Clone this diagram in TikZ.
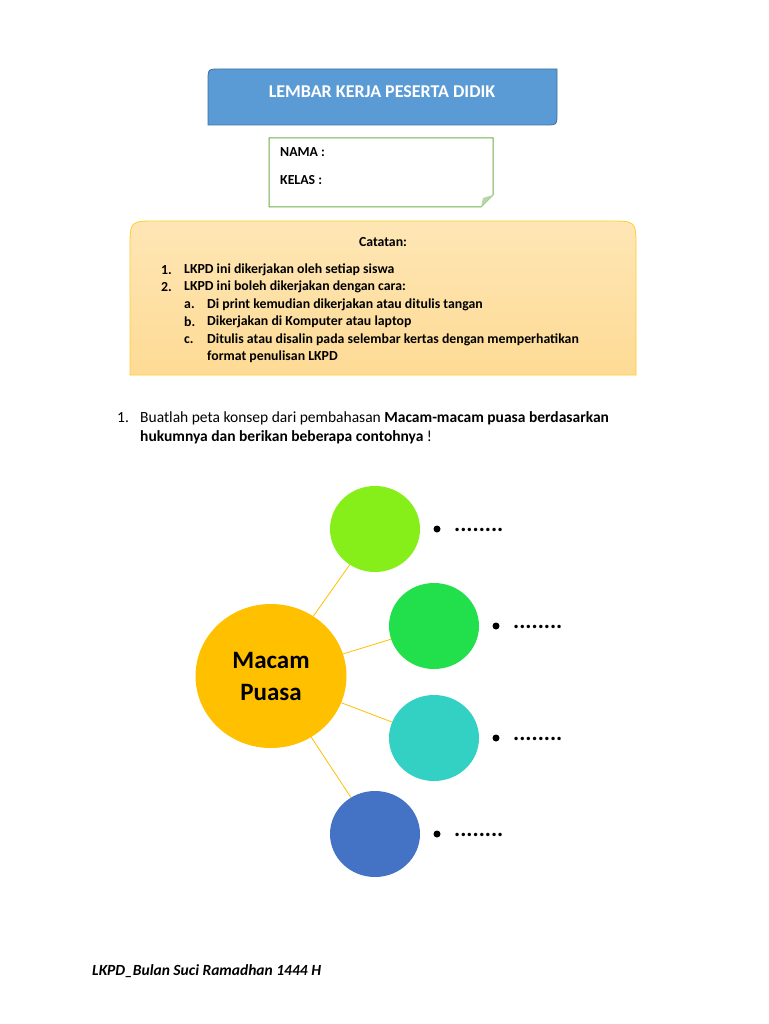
\documentclass[tikz,border=0pt]{standalone}
\usepackage{fontspec}
\setmainfont{Carlito}
\usetikzlibrary{shapes.geometric}
\definecolor{hblue}{HTML}{5B9BD5}
\definecolor{hblueb}{HTML}{41719C}
\definecolor{ngreen}{HTML}{70AD47}
\definecolor{corange}{HTML}{FFC000}
\definecolor{cfill}{HTML}{FEDB95}
\definecolor{c1}{HTML}{86EF19}
\definecolor{c2}{HTML}{22E04B}
\definecolor{c3}{HTML}{33D1C3}
\definecolor{c4}{HTML}{4472C4}
\tikzset{
  txt/.style={anchor=west,inner sep=0pt,font=\bfseries\fontsize{13.8}{15}\selectfont},
  qtxt/.style={anchor=west,inner sep=0pt,font=\fontsize{15.5}{17}\selectfont},
  circ/.style={ellipse,minimum width=90pt,minimum height=86pt,inner sep=0pt},
  link/.style={draw=corange,line width=0.8pt},
  dotlbl/.style={anchor=west,inner sep=0pt,font=\bfseries\fontsize{23}{24}\selectfont}
}
\begin{document}
\begin{tikzpicture}[x=1pt,y=-1pt]
\useasboundingbox (0,0) rectangle (768,1024);
\fill[white] (0,0) rectangle (768,1024);
% header
\draw[hblueb,fill=hblue,line width=0.8pt] (208,125) -- (208,81) .. controls (208,69) .. (220,69) -- (557,69) -- (557,113) .. controls (557,125) .. (545,125) -- cycle;
\node[font=\bfseries\fontsize{18}{20}\selectfont,text=white] (title) at (382,92) {LEMBAR KERJA PESERTA DIDIK};
% name box
\draw[ngreen,fill=white,line width=1pt] (269,138) -- (493,138) -- (493,195) -- (481,207) -- (269,207) -- cycle;
\fill[ngreen!50] (493,195) -- (481,207) -- (483,198) -- cycle;
\node[txt] (nama) at (280,152) {NAMA :};
\node[txt] (kelas) at (280,180) {KELAS :};
% catatan
\draw[corange!80,top color=cfill!70,bottom color=cfill,line width=0.8pt] (130,375) -- (130,248) .. controls (130,221) .. (157,221) -- (609,221) .. controls (636,221) .. (636,248) -- (636,375) -- cycle;
\node[txt,anchor=center] (cat) at (383,242) {Catatan:};
\node[txt] (i1) at (161,270) {1.};
\node[txt] (t1) at (184,270) {LKPD ini dikerjakan oleh setiap siswa};
\node[txt] (i2) at (161,287) {2.};
\node[txt] (t2) at (184,287) {LKPD ini boleh dikerjakan dengan cara:};
\node[txt] (ia) at (184,305) {a.};
\node[txt] (ta) at (207,305) {Di print kemudian dikerjakan atau ditulis tangan};
\node[txt] (ib) at (184,322) {b.};
\node[txt] (tb) at (207,322) {Dikerjakan di Komputer atau laptop};
\node[txt] (ic) at (184,340) {c.};
\node[txt] (tc) at (207,340) {Ditulis atau disalin pada selembar kertas dengan memperhatikan};
\node[txt] (tc2) at (207,357) {format penulisan LKPD};
% question
\node[qtxt] (q1) at (117,418) {1.};
\node[qtxt] (q2) at (140,418) {Buatlah peta konsep dari pembahasan \textbf{Macam-macam puasa berdasarkan}};
\node[qtxt] (q3) at (140,437) {\textbf{hukumnya dan berikan beberapa contohnya} !};
% circles
\node[circ,fill=c1] (s1) at (375,529) {};
\node[circ,fill=c2] (s2) at (434,626) {};
\node[circ,fill=c3] (s3) at (434,738) {};
\node[circ,fill=c4] (s4) at (375,834) {};
\node[ellipse,fill=corange,minimum width=151pt,minimum height=144pt,inner sep=0pt,align=center,font=\bfseries\fontsize{25}{32}\selectfont] (big) at (271,676) {Macam\\Puasa};
\draw[link] (big) -- (s1);
\draw[link] (big) -- (s2);
\draw[link] (big) -- (s3);
\draw[link] (big) -- (s4);
\foreach \n/\x/\y in {d1/437/529,d2/496/626,d3/496/738,d4/437/834}{
  \fill (\x,\y) circle (3.5);
  \node[dotlbl] (\n) at (\x+17,\y+1) {........};
}
% footer
\node[anchor=west,inner sep=0pt,font=\bfseries\itshape\fontsize{15.5}{17}\selectfont] (foot) at (92,971) {LKPD\_Bulan Suci Ramadhan 1444 H};
\end{tikzpicture}
\end{document}
